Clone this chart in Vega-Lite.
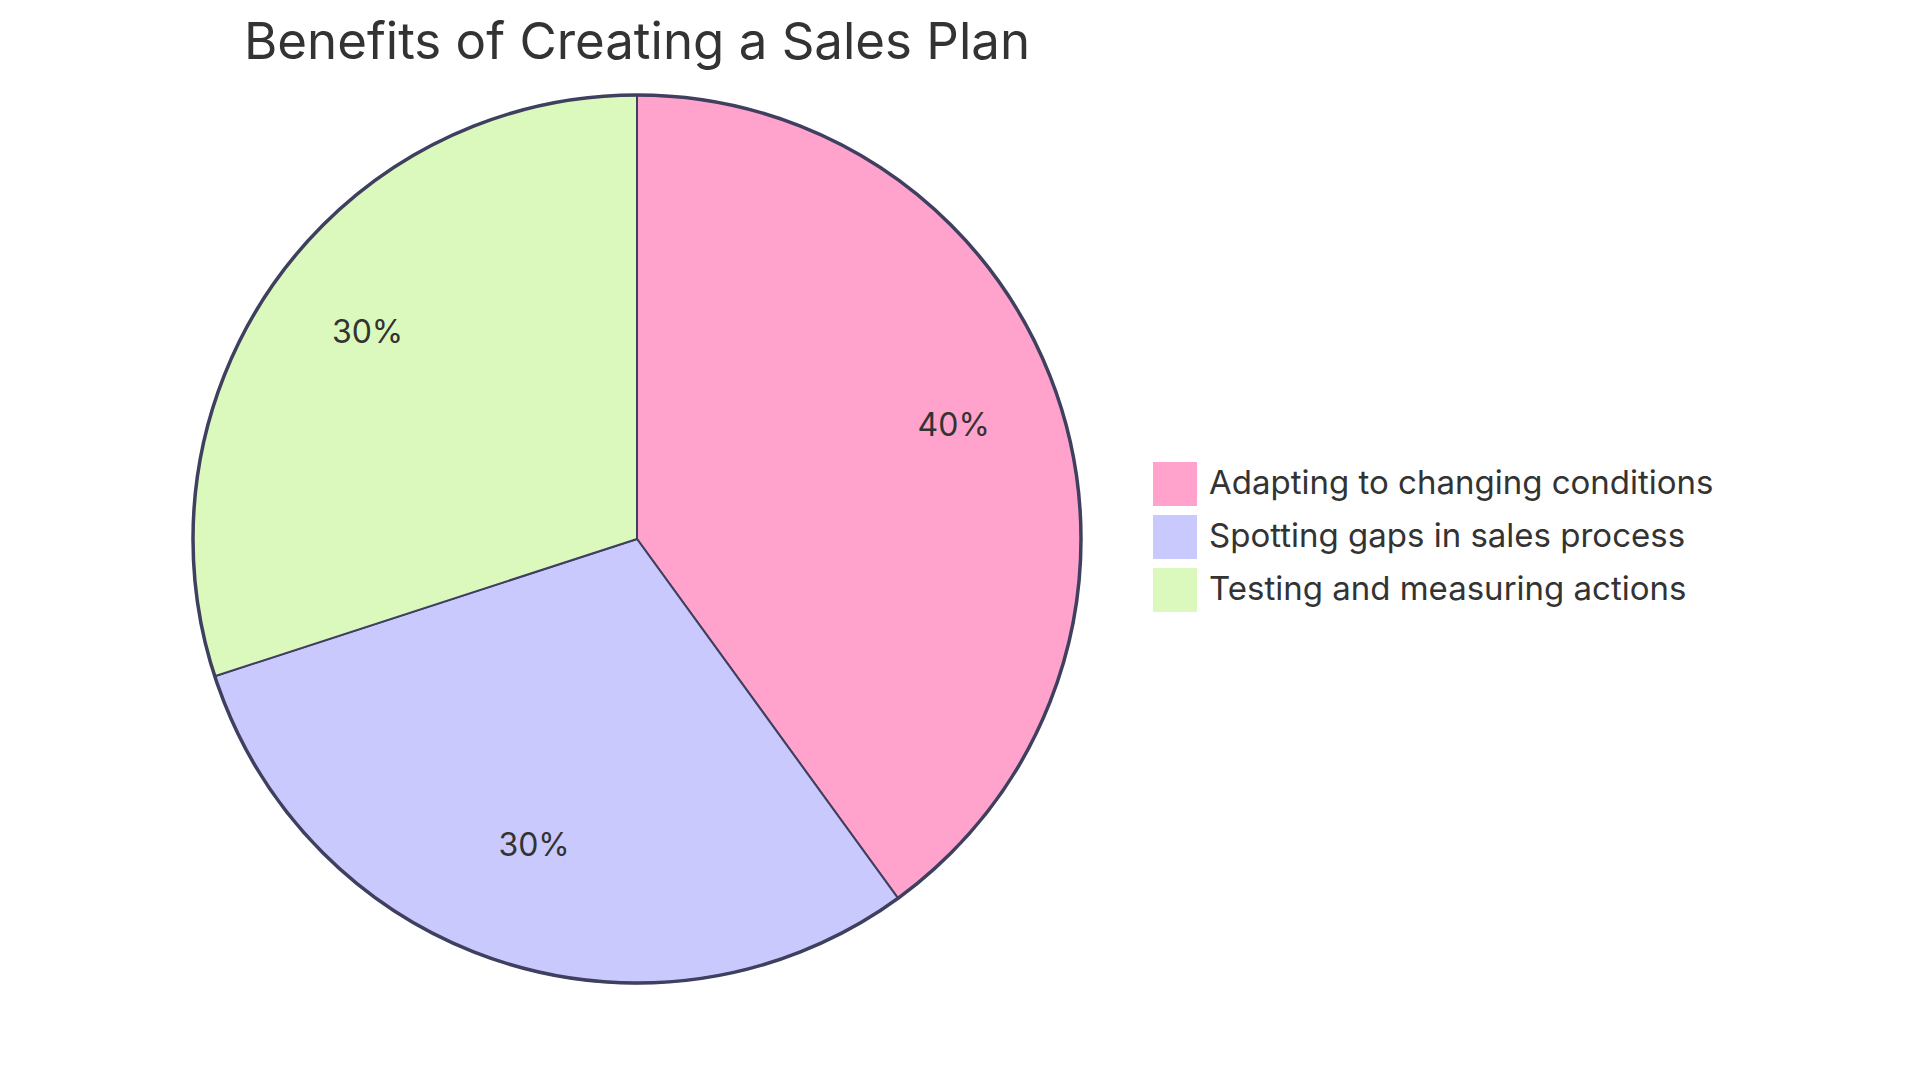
{
  "$schema": "https://vega.github.io/schema/vega-lite/v6.json",
  "title": {
    "text": "Benefits of Creating a Sales Plan",
    "font": "Inter",
    "fontSize": 51,
    "fontWeight": "normal",
    "color": "#333333",
    "anchor": "middle",
    "offset": 18
  },
  "autosize": {"type": "none"},
  "width": 888,
  "height": 888,
  "padding": {"left": 193, "top": 95, "right": 839, "bottom": 97},
  "background": "white",
  "config": {"view": {"stroke": null}},
  "data": {
    "values": [
      {"label": "Adapting to changing conditions", "share": 0.4},
      {"label": "Spotting gaps in sales process", "share": 0.3},
      {"label": "Testing and measuring actions", "share": 0.3}
    ]
  },
  "layer": [
    {
      "mark": {"type": "arc", "outerRadius": 444, "stroke": "#3f4060", "strokeWidth": 2},
      "encoding": {
        "theta": {"field": "share", "type": "quantitative", "stack": true},
        "color": {
          "field": "label",
          "type": "nominal",
          "scale": {
            "domain": [
              "Adapting to changing conditions",
              "Spotting gaps in sales process",
              "Testing and measuring actions"
            ],
            "range": ["#ffa3cd", "#c9c9fe", "#dbf9bc"]
          },
          "legend": {
            "title": null,
            "orient": "none",
            "legendX": 960,
            "legendY": 367,
            "padding": 0,
            "symbolType": "square",
            "symbolSize": 1936,
            "symbolStrokeWidth": 0,
            "symbolOpacity": 1,
            "rowPadding": 9,
            "labelOffset": 12,
            "labelFont": "Inter",
            "labelFontSize": 33,
            "labelColor": "#333333",
            "labelLimit": 800
          }
        }
      }
    },
    {
      "transform": [{"aggregate": [{"op": "sum", "field": "share", "as": "share"}]}],
      "mark": {"type": "arc", "outerRadius": 444, "fillOpacity": 0, "stroke": "#3f4060", "strokeWidth": 3.5},
      "encoding": {
        "theta": {"field": "share", "type": "quantitative"}
      }
    },
    {
      "mark": {"type": "text", "radius": 333, "font": "Inter", "fontSize": 32, "color": "#333333", "baseline": "alphabetic"},
      "encoding": {
        "theta": {"field": "share", "type": "quantitative", "stack": true},
        "order": {"field": "label"},
        "text": {"field": "share", "type": "quantitative", "format": ".0%"}
      }
    }
  ]
}
